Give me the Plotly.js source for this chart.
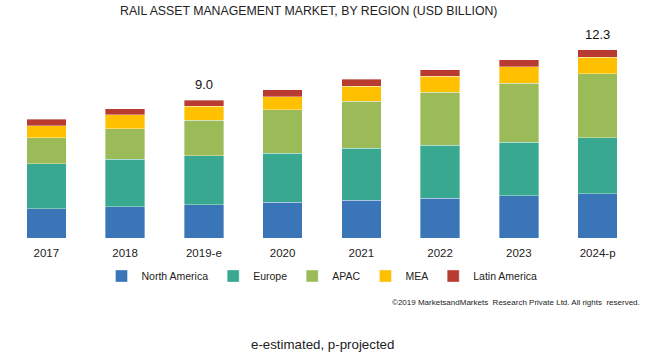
<!DOCTYPE html>
<html>
<head>
<meta charset="utf-8">
<script src="https://cdn.plot.ly/plotly-3.0.1.min.js"></script>
<style>
  html, body { margin: 0; padding: 0; background: #fff; }
  #chart { width: 650px; height: 358px; }
</style>
</head>
<body>
<div id="chart"></div>
<script>
const categories = ['2017', '2018', '2019-e', '2020', '2021', '2022', '2023', '2024-p'];
const northAmerica = [1.92, 2.05, 2.18, 2.35, 2.48, 2.61, 2.77, 2.88];
const europe       = [2.92, 3.11, 3.18, 3.20, 3.38, 3.46, 3.50, 3.66];
const apac         = [1.70, 1.99, 2.33, 2.84, 3.07, 3.44, 3.86, 4.18];
const mea          = [0.78, 0.89, 0.92, 0.85, 0.98, 1.05, 1.05, 1.09];
const latinAmerica = [0.44, 0.42, 0.39, 0.46, 0.46, 0.44, 0.46, 0.50];
const totalLabels  = ['', '', '9.0', '', '', '', '', '12.3'];

const seriesNames  = ['North America', 'Europe', 'APAC', 'MEA', 'Latin America'];
const seriesValues = [northAmerica, europe, apac, mea, latinAmerica];
const seriesColors = ['#3a75b8', '#38a990', '#9bbb59', '#ffc000', '#b93a30'];

const traces = seriesNames.map((name, i) => ({
  type: 'bar',
  name: name,
  x: categories,
  y: seriesValues[i],
  marker: { color: seriesColors[i], line: { color: 'rgba(255,255,255,0.6)', width: 0.6 } },
  hoverinfo: 'x+y+name'
}));

const totals = categories.map((c, k) => seriesValues.reduce((s, arr) => s + arr[k], 0));

const annotations = [];
categories.forEach((c, k) => {
  if (totalLabels[k]) {
    annotations.push({
      x: c, y: totals[k], xref: 'x', yref: 'y',
      text: totalLabels[k], showarrow: false,
      yanchor: 'bottom', yshift: 6,
      font: { family: 'Liberation Sans, Arial, sans-serif', size: 13, color: '#111' }
    });
  }
});
annotations.push({
  xref: 'paper', yref: 'paper', x: 1.008, y: -0.328,
  xanchor: 'right', yanchor: 'middle', showarrow: false,
  text: '©2019 MarketsandMarkets  Research Private Ltd. All rights  reserved.',
  font: { family: 'Liberation Sans Narrow, Liberation Sans, Arial, sans-serif', size: 8, color: '#222' }
});
annotations.push({
  xref: 'paper', yref: 'paper', x: 0.5, y: -0.54,
  xanchor: 'center', yanchor: 'middle', showarrow: false,
  text: 'e-estimated, p-projected',
  font: { family: 'Liberation Sans, Arial, sans-serif', size: 13.3, color: '#222' }
});

const layout = {
  width: 650, height: 358,
  margin: { l: 7, r: 13, t: 40, b: 120 },
  paper_bgcolor: '#ffffff', plot_bgcolor: '#ffffff',
  barmode: 'stack',
  bargap: 0.5,
  title: {
    text: 'RAIL ASSET MANAGEMENT MARKET, BY REGION (USD BILLION)',
    x: 0.475, xref: 'container', xanchor: 'center',
    y: 0.97, yref: 'container', yanchor: 'middle',
    font: { family: 'Liberation Sans Narrow, Liberation Sans, Arial, sans-serif', size: 12.3, color: '#222' }
  },
  xaxis: {
    type: 'category',
    showgrid: false, zeroline: false, showline: false,
    ticks: '', ticklen: 0, ticklabelstandoff: 6,
    tickfont: { family: 'Liberation Sans, Arial, sans-serif', size: 11.5, color: '#222' }
  },
  yaxis: {
    range: [0, 12.94],
    visible: false, showgrid: false, zeroline: false
  },
  showlegend: true,
  legend: {
    orientation: 'h', x: 0.5, xanchor: 'center', y: -0.192, yanchor: 'middle',
    font: { family: 'Liberation Sans, Arial, sans-serif', size: 10.5, color: '#222' },
    traceorder: 'normal', itemclick: false, itemdoubleclick: false
  },
  annotations: annotations
};

Plotly.newPlot('chart', traces, layout, { displayModeBar: false, staticPlot: true });
</script>
</body>
</html>
